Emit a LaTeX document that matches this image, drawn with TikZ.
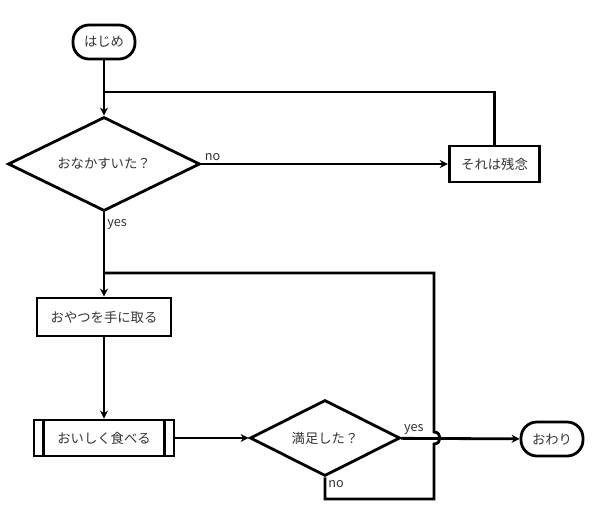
\documentclass[tikz,border=0pt]{standalone}
\usepackage{fontspec}
\setmainfont{Noto Sans CJK JP}
\usetikzlibrary{arrows.meta,shapes.geometric}

\begin{document}
\begin{tikzpicture}[x=0.75pt, y=-0.75pt, line width=2.1pt,
	every node/.style={font=\fontsize{10}{12}\selectfont, text=black!80},
	term/.style={draw, rectangle, rounded corners=12pt, minimum width=46.5pt, minimum height=25.5pt, inner sep=0pt},
	decision/.style={draw, diamond, aspect=2, inner sep=0pt},
	procbox/.style={draw, rectangle, inner sep=0pt, minimum height=27pt},
	lbl/.style={font=\fontsize{9.5}{11}\selectfont, inner sep=1.5pt},
	arr/.style={-{Stealth[length=6pt, width=6pt]}}]
	\useasboundingbox (0,0) rectangle (593,522);
	% nodes
	\node[term] (start) at (104,42) {はじめ};
	\node[decision, minimum width=144pt, minimum height=70.5pt] (hungry) at (104,164) {おなかすいた？};
	\node[procbox, minimum width=68pt] (sorry) at (494.5,164) {それは残念};
	\node[procbox, minimum width=100.5pt, minimum height=28.5pt] (take) at (104,317) {おやつを手に取る};
	\node[procbox, minimum width=105pt] (eat) at (104,438) {おいしく食べる};
	\draw ([xshift=8.25pt]eat.north west) -- ([xshift=8.25pt]eat.south west);
	\draw ([xshift=-8.25pt]eat.north east) -- ([xshift=-8.25pt]eat.south east);
	\node[decision, minimum width=112.5pt, minimum height=57pt] (full) at (325,438) {満足した？};
	\node[term] (stop) at (552,439) {おわり};
	\coordinate (j1) at (104,92);
	\coordinate (j2) at (104,273);
	\coordinate (c1) at (325,499);
	\coordinate (c2) at (434,499);
	% connectors
	\draw[arr] (start) -- (hungry);
	\draw[arr] (hungry) -- node[lbl, pos=0, above right] {no} (sorry);
	\draw (sorry.north) |- (j1);
	\draw[arr] (hungry) -- node[lbl, pos=0, below right, yshift=-3pt] {yes} (take);
	\draw[arr] (take) -- (eat);
	\draw[arr] (eat) -- (full);
	\draw[arr] (full) -- node[lbl, pos=0, above right] {yes} (stop);
	\draw (full.south) -- node[lbl, pos=0, below right] {no} (c1) -- (c2) -- (434,444)
		.. controls (442,444) and (442,432) .. (434,432) |- (j2);
\end{tikzpicture}
\end{document}
